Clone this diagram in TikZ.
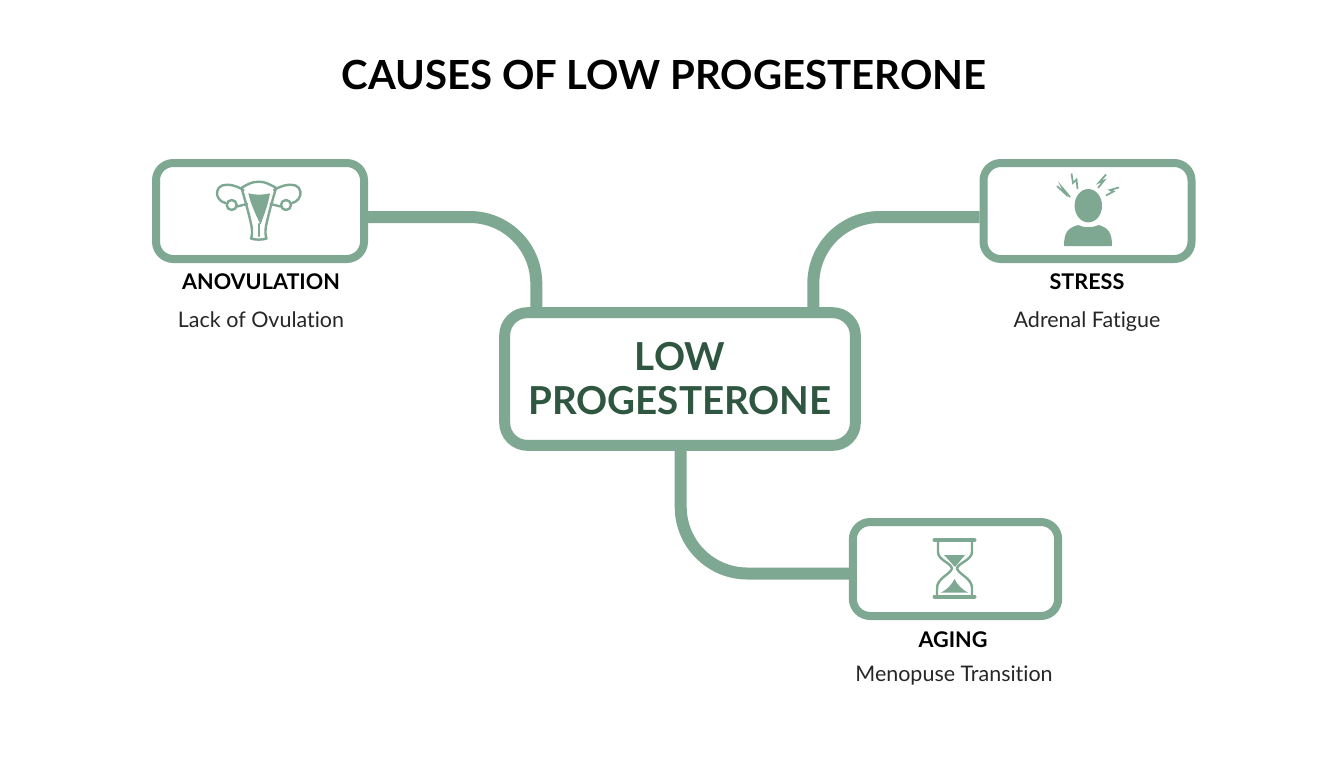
\documentclass[tikz,border=0pt]{standalone}
\usepackage{fontspec}
\setmainfont{Lato}[Ligatures=NoCommon]
\usepackage{xcolor}
\usetikzlibrary{positioning}
\definecolor{sage}{HTML}{7FA892}
\definecolor{deepsage}{HTML}{2F5640}
\tikzstyle{link} = [line width=9pt, draw=sage, rounded corners=50pt]
\tikzstyle{causebox} = [draw=sage, line width=6pt, rounded corners=13pt, fill=white, inner sep=0pt]
\tikzstyle{icon} = [draw=sage, line width=1.8pt, line cap=round, line join=round]
\tikzstyle{iconfill} = [fill=sage, draw=none]
\tikzstyle{bolt} = [draw=sage, line width=1.3pt, line join=miter]
\tikzset{title/.style={anchor=base, font=\bfseries\fontsize{30.1}{32}\selectfont},
    lowtext/.style={anchor=base, text=deepsage, font=\bfseries\fontsize{28.9}{30}\selectfont},
    causename/.style={anchor=base, font=\bfseries\fontsize{16.2}{18}\selectfont},
    causetext/.style={anchor=base, text=black!85, font=\fontsize{16.1}{18}\selectfont}}

\begin{document}
\begin{tikzpicture}[x=0.75pt, y=-0.75pt]
            \useasboundingbox (0,0) rectangle (1344,768);
            \node[title] (heading) at (664,89) {CAUSES OF LOW PROGESTERONE};

            % Draw the centre box and the three cause boxes
            \node[causebox, line width=8.2pt, rounded corners=17pt, minimum width=263pt, minimum height=99.5pt] (low) at (680,379) {};
            \node[lowtext] (lowa) at (680,370) {LOW};
            \node[lowtext] (lowb) at (680,414.5) {PROGESTERONE};
            \node[causebox, minimum width=156pt, minimum height=72pt] (anov) at (260,211) {};
            \node[causebox, minimum width=156pt, minimum height=72pt] (stress) at (1087.5,211) {};
            \node[causebox, minimum width=154pt, minimum height=70.5pt] (aging) at (955.5,569) {};

            % Connect them to the centre box
            \coordinate (lowleft) at (536.3,310);
            \coordinate (lowright) at (813.3,310);
            \coordinate (lowbottom) at (680.7,448);
            \draw[link] (anov.east |- 0,217) -| (lowleft);
            \draw[link] (stress.west |- 0,217) -| (lowright);
            \draw[link] (lowbottom) |- (aging.west |- 0,573.5);

            % Labels under the boxes
            \node[causename] (anovname) at (261,289) {ANOVULATION};
            \node[causetext] (anovtext) at (261,327) {Lack of Ovulation};
            \node[causename] (stressname) at (1087,289) {STRESS};
            \node[causetext] (stresstext) at (1087,327) {Adrenal Fatigue};
            \node[causename] (agingname) at (953,647) {AGING};
            \node[causetext] (agingtext) at (954,681) {Menopuse Transition};

            % Uterus icon
            \fill[iconfill] (248.3,193.3) .. controls (254,195) and (264,195) .. (270,193.3) .. controls (268,205) and (264,215) .. (260.5,224.5) .. controls (256,215) and (251,205) .. (248.3,193.3) -- cycle;
            \draw[icon] (241.7,187.7) .. controls (248,184) and (252,181.7) .. (258.8,181.7) .. controls (265,181.7) and (269,184) .. (275.9,187.7);
            \draw[icon] (241.7,188.5) .. controls (245,200) and (249,214) .. (251.5,226) .. controls (252.5,232) and (252,236) .. (251,238.5) .. controls (255,240) and (262.5,240) .. (266.5,238.5) .. controls (265.5,236) and (265,232) .. (266,226) .. controls (268.5,214) and (272.5,200) .. (275.9,188.5);
            \draw[icon] (259,224) -- (259,236);
            \draw[icon] (243.5,190) .. controls (236,185.5) and (228,183.5) .. (222,185.5) .. controls (216.5,187.5) and (215.5,195) .. (219,199) .. controls (220.5,201) and (223,202.5) .. (225.5,203);
            \draw[icon] (274,190) .. controls (281.5,185.5) and (289.5,183.5) .. (295.5,185.5) .. controls (301,187.5) and (302,195) .. (298.5,199) .. controls (297,201) and (294.5,202.5) .. (292,203);
            \draw[icon] (231.7,205) circle (5);
            \draw[icon] (286,205) circle (5);
            \draw[icon] (237,206.5) -- (247,204);
            \draw[icon] (280.5,206.5) -- (270.5,204);

            % Head icon
            \fill[iconfill] (1088.3,205.7) ellipse (13.7 and 16.7);
            \fill[iconfill] (1064,246) .. controls (1064,232) and (1068,228) .. (1078,225) .. controls (1084,228) and (1092,228) .. (1099,225) .. controls (1108,228) and (1112,232) .. (1112,246) -- cycle;
            \draw[bolt] (1057,186) -- (1065,193.5) -- (1062,187.5) -- (1070,197);
            \draw[bolt] (1071.5,173.5) -- (1073,183) -- (1076.5,179.5) -- (1077.5,189);
            \draw[bolt] (1106,174.5) -- (1099,182.5) -- (1104,180.5) -- (1098,188);
            \draw[bolt] (1119,187.5) -- (1110,190) -- (1113.5,191.5) -- (1106,195.5);

            % Hourglass icon
            \draw[icon, line width=3pt] (934.5,540) -- (974.5,540);
            \draw[icon, line width=3pt] (934.5,596.5) -- (974.5,596.5);
            \draw[icon] (938,542) -- (938,552) .. controls (938,560) and (951,563) .. (952,568.3) .. controls (951,574) and (937,578) .. (937,588) -- (937,595);
            \draw[icon] (972,542) -- (972,552) .. controls (972,560) and (958,563) .. (957,568.3) .. controls (958,574) and (972,578) .. (972,588) -- (972,595);
            \fill[iconfill] (944,555) -- (965,555) -- (955,567) -- cycle;
            \fill[iconfill] (941,592.5) .. controls (948,589) and (952,584) .. (954.5,579) .. controls (957,584) and (961,589) .. (968,592.5) -- cycle;
        \end{tikzpicture}
\end{document}
